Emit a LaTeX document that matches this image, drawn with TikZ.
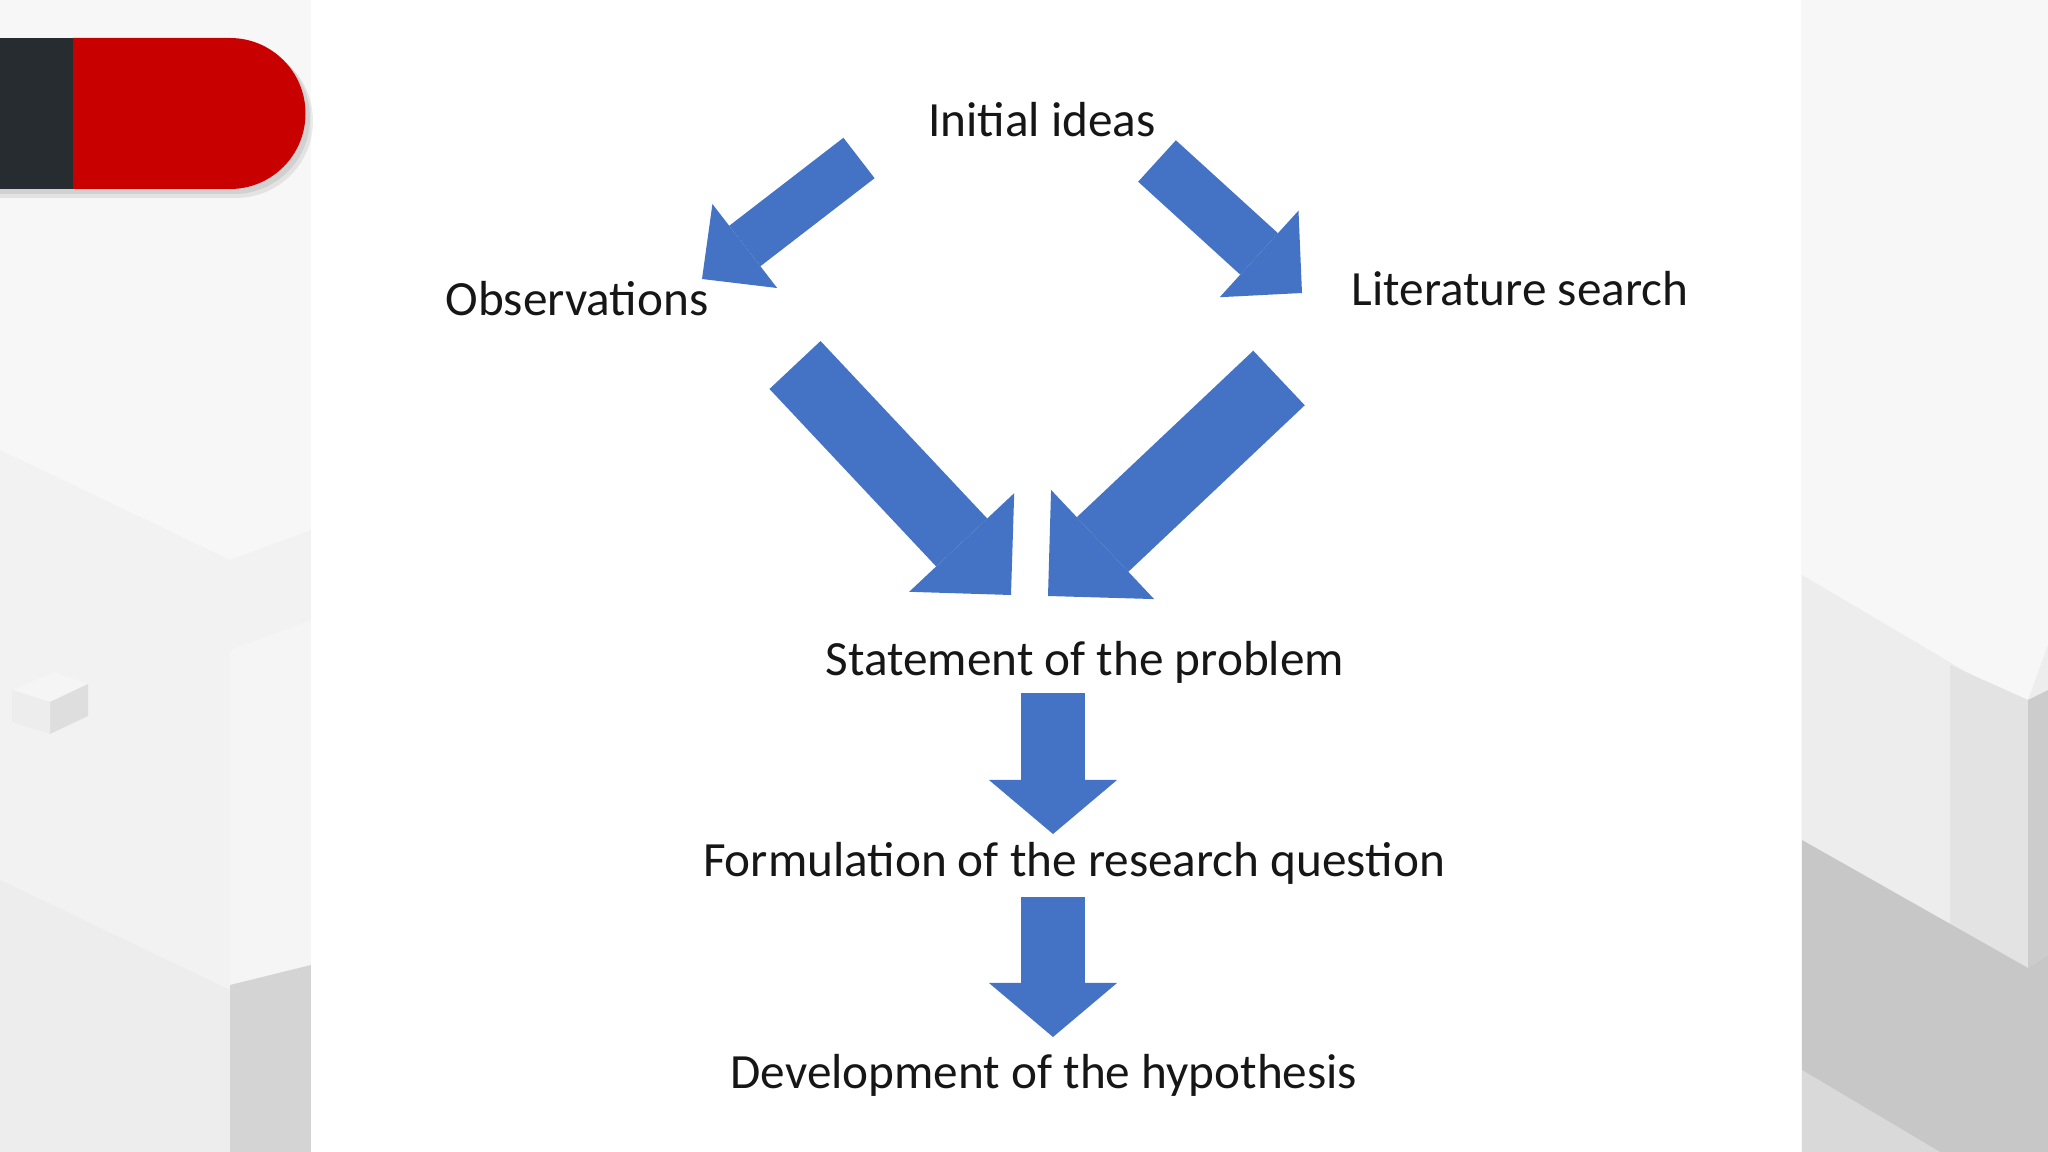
\documentclass[tikz,border=0pt]{standalone}
\usepackage{fontspec}
\setmainfont{Carlito}
\usetikzlibrary{arrows.meta}

\definecolor{flowblue}{HTML}{4472C4}
\definecolor{badgered}{HTML}{C80000}
\definecolor{badgedark}{HTML}{262C30}
\definecolor{txtgray}{HTML}{161616}

\tikzset{
  steptext/.style={text=txtgray, font=\fontsize{14}{16}\selectfont, inner sep=0pt},
  flowarrow/.style args={#1/#2/#3}{draw=flowblue, line width=#1cm,
    -{Triangle[length=#3cm, width=#2cm, line width=0pt]}}
}

\begin{document}
\begin{tikzpicture}[x=0.01cm, y=-0.01cm]
	\useasboundingbox (0,0) rectangle (2048,1152);
	% background blocks
	\fill[black!3] (0,0) rectangle (2048,1152);
	\fill[black!5] (0,450) -- (230,560) -- (311,530) -- (311,1152) -- (0,1152) -- cycle;
	\fill[black!7] (0,880) -- (230,990) -- (311,965) -- (311,1152) -- (0,1152) -- cycle;
	\fill[black!4] (230,650) -- (311,620) -- (311,975) -- (230,985) -- cycle;
	\fill[black!17] (230,985) -- (311,965) -- (311,1152) -- (230,1152) -- cycle;
	\fill[black!4] (12,690) -- (55,672) -- (88,684) -- (50,702) -- cycle;
	\fill[black!13] (50,702) -- (88,684) -- (88,716) -- (50,734) -- cycle;
	\fill[black!7] (12,690) -- (50,702) -- (50,734) -- (12,722) -- cycle;
	\fill[black!7] (1802,575) -- (1980,680) -- (2028,700) -- (2048,645) -- (2048,1152) -- (1802,1152) -- cycle;
	\fill[black!11] (1950,665) -- (2028,700) -- (2028,968) -- (1950,945) -- cycle;
	\fill[black!20] (2028,700) -- (2048,690) -- (2048,955) -- (2028,968) -- cycle;
	\fill[black!22] (1802,840) -- (2028,968) -- (2048,955) -- (2048,1152) -- (1802,1152) -- cycle;
	\fill[black!15] (1802,1070) -- (1940,1152) -- (1802,1152) -- cycle;
	\fill[white] (311,0) rectangle (1801,1152);

	% badge
	\fill[black, opacity=.08] (0,44) -- (236,44) arc(-90:90:77) -- (0,198) -- cycle;
	\fill[black, opacity=.08] (0,42) -- (234,42) arc(-90:90:76) -- (0,194) -- cycle;
	\fill[badgedark] (0,38) rectangle (73,189);
	\fill[badgered] (73,38) -- (230,38) arc(-90:90:75.5) -- (73,189) -- cycle;

	% texts
	\node[steptext] (init) at (1042,120) {Initial ideas};
	\node[steptext] (obs) at (577,299) {Observations};
	\node[steptext] (lit) at (1520,289) {Literature search};
	\node[steptext] (stmt) at (1085,662) {Statement of the problem};
	\node[steptext] (rq) at (1074,863) {Formulation of the research question};
	\node[steptext] (hyp) at (1044,1075) {Development of the hypothesis};

	% arrow ends
	\coordinate (a1) at (859,158);  \coordinate (b1) at (702,279);
	\coordinate (a2) at (1157,161); \coordinate (b2) at (1302,293);
	\coordinate (a3) at (795,365);  \coordinate (b3) at (1011,595);
	\coordinate (a4) at (1279,378); \coordinate (b4) at (1048,596);
	\coordinate (a5) at (1053,693); \coordinate (b5) at (1053,834);
	\coordinate (a6) at (1053,897); \coordinate (b6) at (1053,1037);

	\draw[flowarrow=.51/1.06/.54] (a1) -- (b1);
	\draw[flowarrow=.56/1.17/.58] (a2) -- (b2);
	\draw[flowarrow=.70/1.44/.72] (a3) -- (b3);
	\draw[flowarrow=.75/1.50/.75] (a4) -- (b4);
	\foreach \i in {5,6}
	\draw[flowarrow=.64/1.28/.54] (a\i) -- (b\i);
\end{tikzpicture}
\end{document}
